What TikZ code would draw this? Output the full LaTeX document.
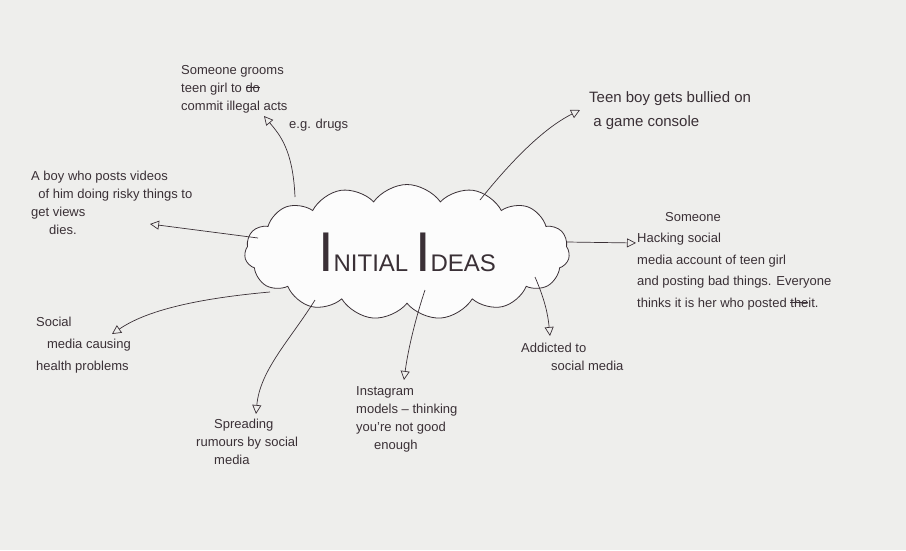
\documentclass[tikz,border=0pt]{standalone}
\usepackage{fontspec}
\setmainfont{Liberation Sans}
\usetikzlibrary{shapes.symbols,arrows.meta}
\definecolor{ink}{HTML}{3A3036}
\newcommand{\strk}[1]{\setbox0\hbox{#1}\rlap{\rule[0.6ex]{\wd0}{0.7pt}}\box0}
\tikzset{
  txt/.style={text=ink,font=\fontsize{13}{18}\selectfont,align=left,inner sep=1pt},
  arr/.style={draw=ink,line width=0.7pt,-{Triangle[open,length=9pt,width=9pt]}}
}
\begin{document}
\begin{tikzpicture}[x=1pt,y=-1pt]
\fill[color={rgb,255:red,238;green,238;blue,236}] (0,0) rectangle (906,550);
\useasboundingbox (0,0) rectangle (906,550);
\node[cloud,draw=ink,line width=0.8pt,cloud puffs=15,cloud puff arc=110,aspect=2.6,minimum width=325pt,minimum height=135pt,fill=white!60!gray!5,text=ink] (c) at (407,252)
  {\fontsize{56}{58}\selectfont I\fontsize{24}{26}\selectfont NITIAL\ \fontsize{56}{58}\selectfont I\fontsize{24}{26}\selectfont DEAS};
\node[txt,anchor=north west] (t1) at (180,64) {Someone grooms\\teen girl to \strk{do}\\commit illegal acts\\\hspace*{108pt}e.g. drugs};
\coordinate (t1a) at (264,116);
\node[txt,anchor=north west,font=\fontsize{15}{24}\selectfont] (t2) at (588,90) {Teen boy gets bullied on\\\ a game console};
\node[txt,anchor=north west] (t3) at (30,170) {A boy who posts videos\\\ \ of him doing risky things to\\get views\\\hspace*{18pt}dies.};
\coordinate (t3a) at (150,224);
\node[txt,anchor=north west,font=\fontsize{13}{21.5}\selectfont] (t4) at (636,211) {\hspace*{28pt}Someone\\Hacking social\\media account of teen girl\\and posting bad things. Everyone\\thinks it is her who posted \strk{the}it.};
\node[txt,anchor=north west,font=\fontsize{13}{22}\selectfont] (t5) at (35,316) {Social\\\ \ \ media causing\\health problems};
\coordinate (t5a) at (112,334);
\node[txt,anchor=north west] (t6) at (195,418) {\hspace*{18pt}Spreading\\rumours by social\\\hspace*{18pt}media};
\node[txt,anchor=north west] (t7) at (355,385) {Instagram\\models -- thinking\\you're not good\\\hspace*{18pt}enough};
\node[txt,anchor=north west] (t8) at (520,342) {Addicted to\\\hspace*{30pt}social media};
\draw[arr] (295,197) .. controls (293,150) and (280,135) .. (t1a);
\draw[arr] (480,200) .. controls (520,150) and (550,125) .. (580,110);
\draw[arr] (258,238) -- (t3a);
\draw[arr] (567,242) -- (636,243);
\draw[arr] (270,292) .. controls (180,300) and (140,315) .. (t5a);
\draw[arr] (315,300) .. controls (290,340) and (260,370) .. (256,414);
\draw[arr] (425,290) .. controls (415,320) and (408,350) .. (404,380);
\draw[arr] (535,277) .. controls (545,300) and (548,315) .. (550,336);
\end{tikzpicture}
\end{document}
